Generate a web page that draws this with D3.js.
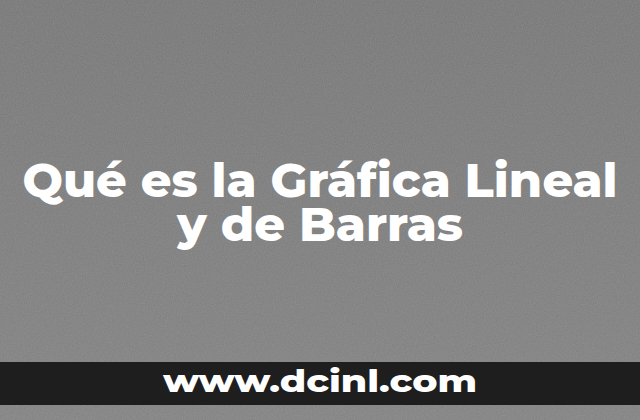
<!DOCTYPE html>
<html>
<head>
<meta charset="utf-8">
<script src="https://cdn.jsdelivr.net/npm/d3@7"></script>
<style>
  html, body { margin: 0; padding: 0; background: #7e7e7e; }
  svg { display: block; }
</style>
</head>
<body>
<script>
// texts of the picture
var titleLines = ["Qué es la Gráfica Lineal", "y de Barras"];
var footerText = ["www.dcinl.com"];

var w = 640, h = 420;
var svg = d3.select("body").append("svg")
  .attr("width", w)
  .attr("height", h);

// rough wall texture
var defs = svg.append("defs");
var grad = defs.append("linearGradient")
  .attr("id", "bg")
  .attr("x1", 0).attr("y1", 0).attr("x2", 0).attr("y2", 1);
grad.append("stop").attr("offset", "0%").attr("stop-color", "#757575");
grad.append("stop").attr("offset", "100%").attr("stop-color", "#808080");

var f = defs.append("filter").attr("id", "grain")
  .attr("x", 0).attr("y", 0).attr("width", "100%").attr("height", "100%");
f.append("feTurbulence")
  .attr("type", "fractalNoise")
  .attr("baseFrequency", 0.9)
  .attr("numOctaves", 2)
  .attr("seed", 4)
  .attr("result", "n");
f.append("feColorMatrix")
  .attr("type", "matrix")
  .attr("values", "0 0 0 0 1  0 0 0 0 1  0 0 0 0 1  0 0 0 0.14 0");

svg.append("rect")
  .attr("width", w).attr("height", h)
  .attr("fill", "url(#bg)");
svg.append("rect")
  .attr("width", w).attr("height", h)
  .attr("filter", "url(#grain)");

// title, one text block with a tspan per line
var fontStack = "Montserrat, 'Open Sans', Lato, 'DejaVu Sans', sans-serif";
var lineY = d3.scaleLinear().domain([0, 1]).range([197, 241]);
var lineW = [595, 286];

var title = svg.append("text")
  .attr("class", "title")
  .attr("text-anchor", "middle")
  .attr("font-family", fontStack)
  .attr("font-weight", 800)
  .attr("font-size", "47px")
  .attr("fill", "#ffffff");

title.selectAll("tspan")
  .data(titleLines)
  .enter()
  .append("tspan")
  .attr("x", w / 2)
  .attr("y", function(d, i) { return lineY(i); })
  .attr("textLength", function(d, i) { return lineW[i]; })
  .attr("lengthAdjust", "spacingAndGlyphs")
  .text(function(d) { return d; });

// bottom band
svg.append("rect")
  .attr("x", 0).attr("y", 362)
  .attr("width", w).attr("height", 43)
  .attr("fill", "#1e1e1e");

svg.selectAll("text.foot")
  .data(footerText)
  .enter()
  .append("text")
  .attr("class", "foot")
  .attr("x", 320)
  .attr("y", 392)
  .attr("text-anchor", "middle")
  .attr("textLength", 314)
  .attr("lengthAdjust", "spacingAndGlyphs")
  .attr("font-family", fontStack)
  .attr("font-weight", 800)
  .attr("font-size", "31px")
  .attr("fill", "#ffffff")
  .text(function(d) { return d; });
</script>
</body>
</html>
